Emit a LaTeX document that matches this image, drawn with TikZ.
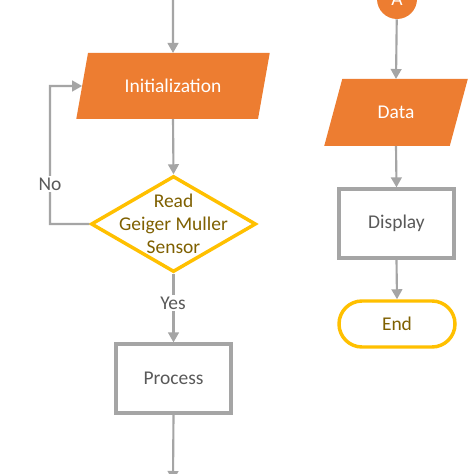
\documentclass[tikz,border=0pt]{standalone}
\usepackage{fontspec}
\setmainfont{Carlito}
\usetikzlibrary{shapes.geometric,arrows.meta}
\definecolor{orng}{HTML}{ED7D31}
\definecolor{gry}{HTML}{A5A5A5}
\definecolor{gld}{HTML}{FFC000}
\definecolor{olv}{HTML}{7F6000}
\definecolor{dgry}{HTML}{595959}
\def\u{0.75pt}
\begin{document}
\begin{tikzpicture}[x=0.75pt,y=-0.75pt,
  every node/.style={font=\fontsize{14.6}{17.25}\selectfont},
  conn/.style={draw=gry,line width=1.6pt,-{Triangle[length=7.5pt,width=8pt]}},
  iobox/.style={trapezium,trapezium left angle=64,trapezium right angle=116,trapezium stretches=true,fill=orng,text=white,inner sep=0pt,outer sep=0pt},
  procbox/.style={rectangle,draw=gry,line width=2.4pt,fill=white,text=dgry,inner sep=0pt},
  decision/.style={diamond,draw=gld,line width=2.6pt,fill=white,inner sep=0pt,minimum width=165*\u,minimum height=96*\u},
  dectext/.style={align=center,text=olv,inner sep=0pt},
  termbox/.style={rectangle,rounded corners=23*\u,draw=gld,line width=2.6pt,fill=white,text=olv,inner sep=0pt,minimum width=116*\u,minimum height=46*\u},
  lbl/.style={fill=white,text=dgry,inner sep=1.5pt},
  conncirc/.style={circle,fill=orng,text=white,minimum size=40*\u,inner sep=0pt}]
\useasboundingbox (0,0) rectangle (474,474);
\fill[white] (0,0) rectangle (474,474);
% left column
\coordinate (topin) at (173,-10);
\node[iobox,minimum width=194*\u,minimum height=66*\u] (init) at (173,86) {Initialization};
\node[decision] (dec) at (173.5,224) {};
\node[dectext] (dect) at (173.5,224) {Read\\Geiger Muller\\Sensor};
\node[procbox,minimum width=115*\u,minimum height=69*\u] (proc) at (173.5,378.5) {Process};
\coordinate (botout) at (173,481);
\coordinate (nocorner1) at (50,224);
\coordinate (nocorner2) at (50,86);
\draw[conn] (topin) -- (init.north);
\draw[conn] (init.south) -- (dec.north);
\draw[conn] (dec.south) -- (proc.north);
\draw[conn] (proc.south) -- (botout);
\draw[conn] (dec.west) -- (nocorner1) -- (nocorner2) -- (init.west);
\node[lbl] (no) at (50,184) {No};
\node[lbl] (yes) at (173,303) {Yes};
% right column
\node[conncirc] (A) at (397,-1) {A};
\node[iobox,minimum width=144*\u,minimum height=67*\u] (data) at (396,112.5) {Data};
\node[procbox,minimum width=115*\u,minimum height=69*\u] (disp) at (396.5,223.5) {Display};
\node[termbox] (end) at (397,324) {End};
\draw[conn] (A) -- (data.north);
\draw[conn] (data.south) -- (disp.north);
\draw[conn] (disp.south) -- (end.north);
\end{tikzpicture}
\end{document}
